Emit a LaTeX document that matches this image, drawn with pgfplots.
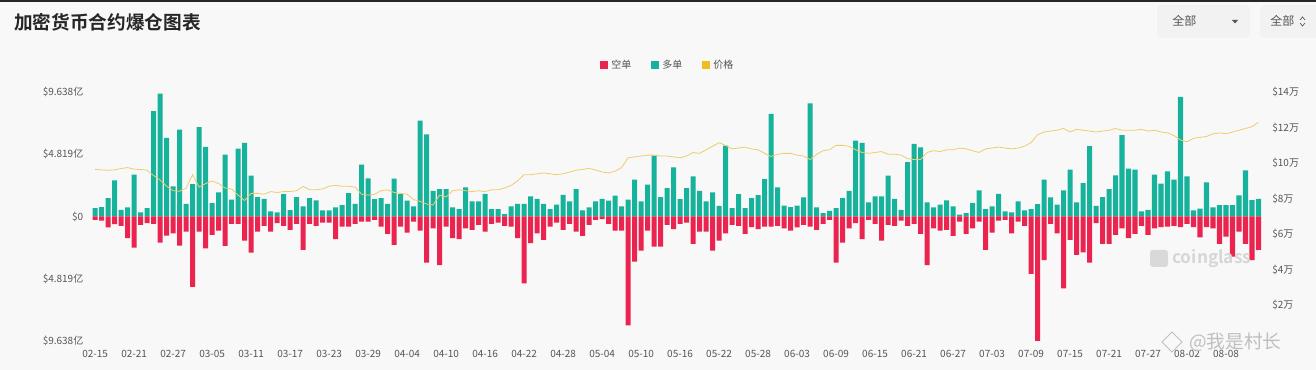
\documentclass[border=0pt]{standalone}
\usepackage{pgfplots}
\pgfplotsset{compat=1.18}
\usepackage{pgfplotstable}
\usepackage{fontspec}
\setmainfont{Noto Sans CJK SC}[BoldFont={Noto Sans CJK SC Bold}]
\definecolor{teal1}{RGB}{22,178,155}
\definecolor{red1}{RGB}{234,36,78}
\definecolor{gold1}{RGB}{238,204,110}
\definecolor{goldleg}{RGB}{240,190,30}
\definecolor{bg}{RGB}{248,248,248}
\definecolor{txt}{RGB}{85,85,85}

\pgfplotstableread{
d L S P
0 0.65 -0.26 9.65
1 0.73 -0.31 9.62
2 1.42 -0.85 9.60
3 2.80 -0.60 9.62
4 0.52 -0.73 9.70
5 0.70 -1.68 9.75
6 3.24 -2.41 9.66
7 0.31 -0.65 9.64
8 0.65 -0.52 9.60
9 8.16 -0.57 9.30
10 9.51 -2.02 9.05
11 6.09 -1.48 8.70
12 2.33 -1.30 8.45
13 6.73 -2.25 8.42
14 0.98 -1.17 8.60
15 2.51 -5.44 9.35
16 6.92 -1.17 8.65
17 5.39 -2.46 8.85
18 1.04 -1.42 9.00
19 1.86 -1.09 8.85
20 4.79 -2.28 8.60
21 1.30 -0.57 8.55
22 5.26 -0.57 8.20
23 5.70 -1.86 7.90
24 3.16 -2.80 8.30
25 1.50 -1.17 8.30
26 1.37 -0.73 8.25
27 0.39 -1.17 8.40
28 0.31 -0.52 8.35
29 1.74 -0.73 8.40
30 0.49 -1.04 8.40
31 1.50 -0.57 8.45
32 0.78 -2.59 8.70
33 1.42 -0.57 8.50
34 1.24 -0.73 8.50
35 0.47 -0.47 8.55
36 0.47 -0.47 8.70
37 0.70 -1.76 8.75
38 0.88 -0.78 8.70
39 1.81 -0.78 8.70
40 0.98 -0.57 8.65
41 4.01 -0.39 8.25
42 2.95 -0.39 8.20
43 1.35 -0.26 8.25
44 1.42 -0.78 8.45
45 0.98 -1.35 8.50
46 2.93 -2.20 8.35
47 1.74 -0.78 8.30
48 1.22 -1.24 8.25
49 0.78 -0.39 7.95
50 7.43 -1.09 7.85
51 6.35 -3.57 7.70
52 1.99 -0.91 7.65
53 2.12 -3.76 8.20
54 2.12 -0.78 8.10
55 0.70 -1.68 8.45
56 0.57 -1.76 8.50
57 2.25 -0.91 8.45
58 1.17 -1.04 8.40
59 1.17 -0.65 8.45
60 1.76 -1.17 8.40
61 0.57 -0.57 8.50
62 0.57 -0.47 8.50
63 0.18 -0.73 8.60
64 0.78 -0.78 8.75
65 0.98 -1.68 9.00
66 0.98 -5.18 9.35
67 1.55 -2.07 9.35
68 1.37 -1.30 9.40
69 0.98 -1.81 9.45
70 0.57 -0.78 9.40
71 0.91 -0.47 9.35
72 1.68 -1.04 9.40
73 1.17 -0.57 9.50
74 2.12 -1.17 9.60
75 0.47 -1.50 9.65
76 0.70 -0.65 9.70
77 1.17 -0.26 9.62
78 1.37 -0.21 9.50
79 1.22 -0.57 9.45
80 1.61 -1.09 9.55
81 0.78 -1.09 9.75
82 1.30 -8.42 10.30
83 2.85 -3.50 10.35
84 1.17 -2.64 10.40
85 2.46 -1.09 10.45
86 4.71 -2.33 10.45
87 1.50 -2.33 10.40
88 2.20 -0.65 10.40
89 3.81 -0.98 10.35
90 1.35 -0.57 10.30
91 2.20 -0.47 10.40
92 3.11 -2.12 10.60
93 1.99 -1.17 10.55
94 1.17 -1.17 10.75
95 1.86 -2.64 10.95
96 0.83 -1.86 11.15
97 5.49 -1.30 11.00
98 0.65 -0.65 10.80
99 1.74 -0.73 10.85
100 0.65 -1.35 10.90
101 1.42 -0.83 10.80
102 1.66 -0.98 10.75
103 2.90 -0.78 10.55
104 7.95 -0.78 10.37
105 2.25 -0.73 10.50
106 0.85 -0.91 10.55
107 0.73 -1.09 10.55
108 0.85 -0.85 10.45
109 1.48 -0.65 10.40
110 8.75 -0.78 10.20
111 0.70 -1.04 10.50
112 0.26 -0.57 10.70
113 0.44 -0.26 10.75
114 0.65 -3.57 11.00
115 1.42 -2.02 11.00
116 1.99 -0.91 10.95
117 5.88 -0.52 10.75
118 5.70 -1.76 10.60
119 1.09 -0.26 10.55
120 1.55 -0.57 10.60
121 1.55 -1.86 10.65
122 3.16 -0.65 10.50
123 1.37 -0.73 10.50
124 0.52 -0.31 10.45
125 4.20 -0.73 10.25
126 5.62 -0.57 10.20
127 5.36 -1.35 10.20
128 1.09 -3.76 10.60
129 0.70 -0.91 10.70
130 0.91 -1.09 10.65
131 1.24 -1.04 10.75
132 0.78 -1.50 10.75
133 0.15 -0.40 10.85
134 0.26 -1.35 10.80
135 1.04 -0.91 10.70
136 2.02 -0.39 10.60
137 0.57 -2.59 10.80
138 0.78 -1.24 10.85
139 1.76 -0.31 10.90
140 0.39 -0.26 10.85
141 0.31 -1.30 10.80
142 1.17 -0.39 10.85
143 0.47 -0.73 10.95
144 0.57 -4.45 11.15
145 0.96 -9.63 11.60
146 2.85 -3.37 11.75
147 1.48 -0.57 11.80
148 0.91 -1.30 11.85
149 2.02 -5.57 11.95
150 3.63 -1.81 11.75
151 1.09 -2.98 11.90
152 2.59 -2.77 11.85
153 5.44 -3.57 11.80
154 0.83 -0.52 11.75
155 1.50 -2.12 11.80
156 2.12 -2.12 11.85
157 3.19 -1.42 11.95
158 6.29 -0.91 11.85
159 3.70 -1.68 11.85
160 3.63 -1.35 11.85
161 0.39 -0.73 11.90
162 0.52 -1.42 11.80
163 3.24 -0.91 11.85
164 2.54 -0.83 11.75
165 3.50 -0.78 11.70
166 2.85 -0.73 11.55
167 9.27 -0.83 11.30
168 3.11 -0.57 11.20
169 0.47 -0.83 11.40
170 0.60 -1.61 11.45
171 2.64 -0.83 11.50
172 0.70 -0.91 11.65
173 0.88 -2.12 11.70
174 0.88 -1.55 11.65
175 0.88 -3.11 11.75
176 1.63 -1.17 11.85
177 3.57 -2.12 11.95
178 1.27 -3.37 12.05
179 1.37 -2.59 12.30
}\data

\begin{document}
\begin{tikzpicture}[x=0.75pt,y=0.75pt]
\fill[bg] (0,0) rectangle (1316,370);
\fill[black!85] (0,367.5) rectangle (1316,370);
% title
\node[anchor=west,inner sep=0pt,font=\fontsize{14}{16}\selectfont\bfseries,text=black!85] at (14,348) {加密货币合约爆仓图表};
% buttons
\fill[black!5,rounded corners=3pt] (1157,332) rectangle (1250,365);
\node[anchor=west,inner sep=0pt,font=\fontsize{9}{11}\selectfont,text=txt] at (1172,349) {全部};
\fill[txt] (1232,350) -- (1238,350) -- (1235,346.5) -- cycle;
\fill[black!5,rounded corners=3pt] (1260,332) rectangle (1322,365);
\node[anchor=west,inner sep=0pt,font=\fontsize{9}{11}\selectfont,text=txt] at (1270,349) {全部};
\draw[txt,line width=0.5pt] (1300,350) -- (1302.5,353) -- (1305,350);
\draw[txt,line width=0.5pt] (1300,347) -- (1302.5,344) -- (1305,347);
% legend
\fill[red1] (600,301) rectangle (608,309);
\node[anchor=west,inner sep=0pt,font=\fontsize{7.5}{9}\selectfont,text=txt] at (611,305) {空单};
\fill[teal1] (651,301) rectangle (659,309);
\node[anchor=west,inner sep=0pt,font=\fontsize{7.5}{9}\selectfont,text=txt] at (662,305) {多单};
\fill[goldleg] (702,301) rectangle (710,309);
\node[anchor=west,inner sep=0pt,font=\fontsize{7.5}{9}\selectfont,text=txt] at (713,305) {价格};

\begin{axis}[
  at={(66pt,21.75pt)}, anchor=south west, scale only axis,
  width=882.75pt, height=186.75pt,
  xmin=-1.1, xmax=180, ymin=-9.638, ymax=9.638,
  axis line style={draw=none}, major tick length=0pt,
  xtick={0,6,...,174},
  xticklabels={02-15,02-21,02-27,03-05,03-11,03-17,03-23,03-29,04-04,04-10,04-16,04-22,04-28,05-04,05-10,05-16,05-22,05-28,06-03,06-09,06-15,06-21,06-27,07-03,07-09,07-15,07-21,07-27,08-02,08-08},
  ytick={-9.638,-4.819,0,4.819,9.638},
  yticklabels={\$9.638亿,\$4.819亿,\$0,\$4.819亿,\$9.638亿},
  tick label style={font=\fontsize{7.5}{9}\selectfont, text=txt},
  xticklabel style={yshift=-3.5pt},
  clip=false,
]
\addplot[ybar, bar width=0.78, bar shift=0pt, fill=teal1, draw=none] table[x=d,y=L]{\data};
\addplot[ybar, bar width=0.78, bar shift=0pt, fill=red1, draw=none] table[x=d,y=S]{\data};
\end{axis}

\begin{axis}[
  at={(66pt,21.75pt)}, anchor=south west, scale only axis,
  width=882.75pt, height=186.75pt,
  xmin=-1.1, xmax=180, ymin=0, ymax=14,
  axis y line*=right, axis x line=none,
  axis line style={draw=none}, major tick length=0pt,
  ytick={2,4,...,14},
  yticklabels={\$2万,\$4万,\$6万,\$8万,\$10万,\$12万,\$14万},
  yticklabel style={font=\fontsize{7.5}{9}\selectfont, text=txt, anchor=west, xshift=2pt},
  clip=false,
]
\addplot[gold1, line width=0.6pt] table[x=d,y=P]{\data};
\end{axis}

% watermarks
\fill[black!15,rounded corners=2pt] (1150,103) rectangle (1168,120);
\node[anchor=west,inner sep=0pt,font=\fontsize{13}{15}\selectfont\bfseries,text=black!16] at (1172,111) {coinglass};
\draw[black!25,line width=0.6pt] (1172,38) -- (1182,28) -- (1172,18) -- (1162,28) -- cycle;
\node[anchor=west,inner sep=0pt,font=\fontsize{14}{16}\selectfont,text=black!25] at (1189,28) {@我是村长};

\pgfresetboundingbox
\useasboundingbox (0,0) rectangle (1316,370);
\end{tikzpicture}
\end{document}
